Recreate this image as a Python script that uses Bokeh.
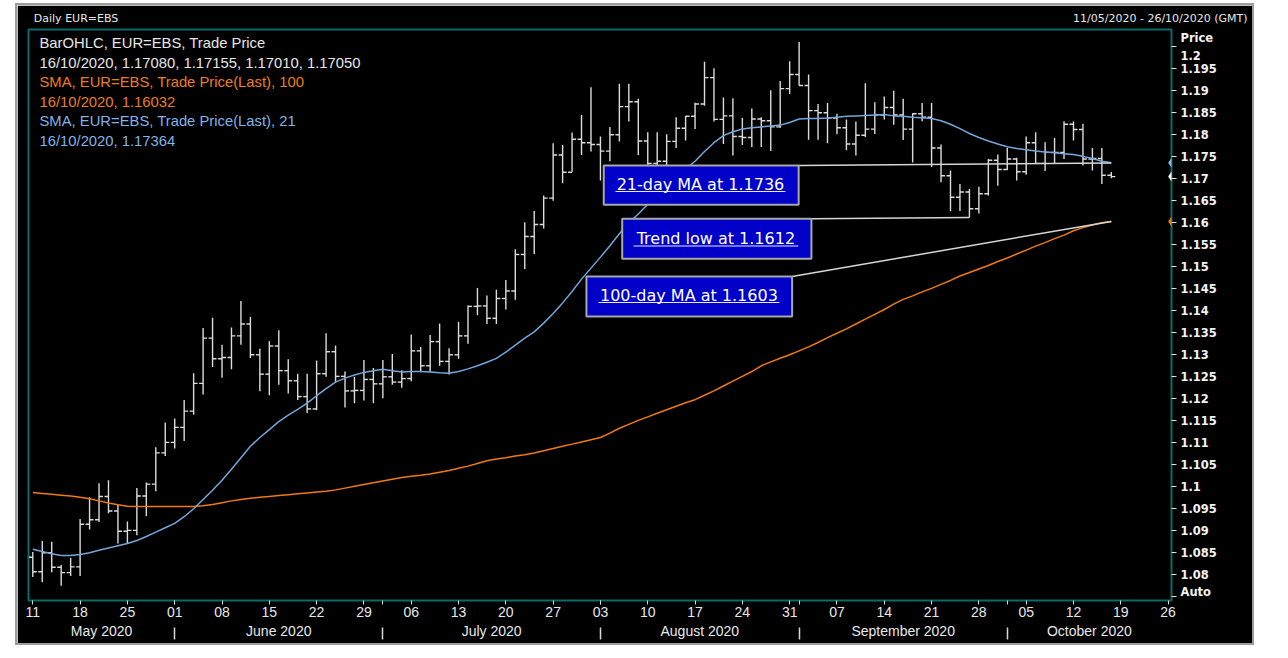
import numpy as np
import pandas as pd
from bokeh.plotting import figure
from bokeh.models import ColumnDataSource, Range1d, LinearAxis, FixedTicker, Label
from bokeh.core.properties import value
from bokeh.embed import file_html
from bokeh.resources import INLINE

# ---------------- data ----------------
dates = pd.bdate_range("2020-05-11", "2020-10-16")

opens = [
    1.0840, 1.0807, 1.0850, 1.0817, 1.0805,
    1.0818, 1.0915, 1.0925, 1.0978, 1.0945,
    1.0899, 1.0901, 1.0979, 1.1006, 1.1077,
    1.1101, 1.1135, 1.1172, 1.1235, 1.1338,
    1.1291, 1.1294, 1.1343, 1.1370, 1.1300,
    1.1256, 1.1320, 1.1264, 1.1241, 1.1205,
    1.1177, 1.1257, 1.1307, 1.1251, 1.1218,
    1.1219, 1.1244, 1.1234, 1.1250, 1.1238,
    1.1246, 1.1309, 1.1275, 1.1330, 1.1285,
    1.1300, 1.1343, 1.1410, 1.1411, 1.1383,
    1.1428, 1.1445, 1.1528, 1.1569, 1.1596,
    1.1656, 1.1754, 1.1715, 1.1790, 1.1782,
    1.1778, 1.1763, 1.1800, 1.1864, 1.1875,
    1.1786, 1.1735, 1.1740, 1.1785, 1.1815,
    1.1842, 1.1870, 1.1930, 1.1835, 1.1843,
    1.1796, 1.1794, 1.1836, 1.1832, 1.1818,
    1.1905, 1.1937, 1.1912, 1.1855, 1.1850,
    1.1838, 1.1816, 1.1779, 1.1799, 1.1813,
    1.1845, 1.1862, 1.1845, 1.1813, 1.1848,
    1.1840, 1.1770, 1.1707, 1.1658, 1.1670,
    1.1632, 1.1666, 1.1742, 1.1721, 1.1745,
    1.1716, 1.1782, 1.1735, 1.1760, 1.1760,
    1.1824, 1.1812, 1.1745, 1.1746, 1.17080,
]
highs = [
    1.0852, 1.0877, 1.0875, 1.0822, 1.0838,
    1.0927, 1.0976, 1.1008, 1.1015, 1.0960,
    1.0921, 1.0997, 1.1010, 1.1090, 1.1146,
    1.1155, 1.1197, 1.1258, 1.1361, 1.1384,
    1.1323, 1.1362, 1.1422, 1.1386, 1.1314,
    1.1331, 1.1356, 1.1290, 1.1257, 1.1257,
    1.1287, 1.1349, 1.1321, 1.1262, 1.1250,
    1.1288, 1.1270, 1.1288, 1.1302, 1.1265,
    1.1346, 1.1318, 1.1345, 1.1371, 1.1315,
    1.1375, 1.1412, 1.1452, 1.1435, 1.1448,
    1.1470, 1.1540, 1.1601, 1.1627, 1.1662,
    1.1781, 1.1777, 1.1805, 1.1845, 1.1908,
    1.1796, 1.1818, 1.1916, 1.1916, 1.1882,
    1.1806, 1.1806, 1.1801, 1.1840, 1.1843,
    1.1873, 1.1966, 1.1951, 1.1885, 1.1883,
    1.1838, 1.1860, 1.1840, 1.1901, 1.1922,
    1.1967, 1.2011, 1.1937, 1.1870, 1.1872,
    1.1848, 1.1835, 1.1830, 1.1917, 1.1874,
    1.1887, 1.1900, 1.1882, 1.1849, 1.1872,
    1.1872, 1.1778, 1.1719, 1.1688, 1.1677,
    1.1682, 1.1745, 1.1755, 1.1770, 1.1748,
    1.1796, 1.1806, 1.1783, 1.1793, 1.1831,
    1.1830, 1.1825, 1.1770, 1.1770, 1.17155,
]
lows = [
    1.0795, 1.0783, 1.0806, 1.0775, 1.0797,
    1.0797, 1.0903, 1.0920, 1.0940, 1.0871,
    1.0870, 1.0890, 1.0933, 1.0990, 1.1070,
    1.1087, 1.1104, 1.1164, 1.1210, 1.1272,
    1.1248, 1.1267, 1.1323, 1.1293, 1.1217,
    1.1208, 1.1232, 1.1212, 1.1197, 1.1168,
    1.1174, 1.1250, 1.1238, 1.1180, 1.1190,
    1.1196, 1.1190, 1.1201, 1.1232, 1.1225,
    1.1240, 1.1263, 1.1261, 1.1275, 1.1255,
    1.1291, 1.1325, 1.1390, 1.1370, 1.1370,
    1.1403, 1.1425, 1.1495, 1.1529, 1.1587,
    1.1650, 1.1690, 1.1716, 1.1754, 1.1762,
    1.1696, 1.1740, 1.1785, 1.1830, 1.1754,
    1.1723, 1.1711, 1.1711, 1.1770, 1.1787,
    1.1813, 1.1866, 1.1830, 1.1779, 1.1753,
    1.1777, 1.1772, 1.1772, 1.1763, 1.1816,
    1.1893, 1.1912, 1.1789, 1.1789, 1.1781,
    1.1801, 1.1765, 1.1753, 1.1795, 1.1802,
    1.1835, 1.1823, 1.1788, 1.1737, 1.1831,
    1.1727, 1.1692, 1.1626, 1.1627, 1.1612,
    1.1621, 1.1662, 1.1684, 1.1720, 1.1696,
    1.1709, 1.1735, 1.1718, 1.1736, 1.1745,
    1.1787, 1.1730, 1.1719, 1.1688, 1.17010,
]
closes = [
    1.0807, 1.0850, 1.0817, 1.0805, 1.0818,
    1.0915, 1.0925, 1.0978, 1.0945, 1.0899,
    1.0901, 1.0979, 1.1006, 1.1077, 1.1101,
    1.1135, 1.1172, 1.1235, 1.1338, 1.1291,
    1.1294, 1.1343, 1.1370, 1.1300, 1.1256,
    1.1320, 1.1264, 1.1241, 1.1205, 1.1177,
    1.1257, 1.1307, 1.1251, 1.1218, 1.1219,
    1.1244, 1.1234, 1.1250, 1.1238, 1.1246,
    1.1309, 1.1275, 1.1330, 1.1285, 1.1300,
    1.1343, 1.1410, 1.1411, 1.1383, 1.1428,
    1.1445, 1.1528, 1.1569, 1.1596, 1.1656,
    1.1754, 1.1715, 1.1790, 1.1782, 1.1778,
    1.1763, 1.1800, 1.1864, 1.1875, 1.1786,
    1.1735, 1.1740, 1.1785, 1.1815, 1.1842,
    1.1870, 1.1930, 1.1835, 1.1843, 1.1796,
    1.1794, 1.1836, 1.1832, 1.1818, 1.1905,
    1.1937, 1.1912, 1.1855, 1.1850, 1.1838,
    1.1816, 1.1779, 1.1799, 1.1813, 1.1845,
    1.1862, 1.1845, 1.1813, 1.1848, 1.1840,
    1.1770, 1.1707, 1.1658, 1.1670, 1.1632,
    1.1666, 1.1742, 1.1721, 1.1745, 1.1716,
    1.1782, 1.1735, 1.1760, 1.1760, 1.1824,
    1.1812, 1.1745, 1.1746, 1.1708, 1.17050,
]
sma21 = [
    1.0858, 1.0853, 1.0848, 1.0844, 1.0844, 1.0846, 1.0850, 1.0856, 1.0861, 1.0866,
    1.0871, 1.0878, 1.0887, 1.0897, 1.0907, 1.0917, 1.0932, 1.0950, 1.0971, 1.0992,
    1.1015, 1.1040, 1.1066, 1.1092, 1.1112, 1.1130, 1.1148, 1.1163, 1.1176, 1.1190,
    1.1207, 1.1223, 1.1238, 1.1247, 1.1254, 1.1260, 1.1264, 1.1267, 1.1264, 1.1261,
    1.1262, 1.1262, 1.1261, 1.1259, 1.1258, 1.1262, 1.1268, 1.1275, 1.1283, 1.1292,
    1.1306, 1.1322, 1.1338, 1.1352, 1.1372, 1.1394, 1.1418, 1.1444, 1.1472, 1.1497,
    1.1522, 1.1548, 1.1575, 1.1600, 1.1620, 1.1642, 1.1663, 1.1684, 1.1703, 1.1722,
    1.1740, 1.1762, 1.1782, 1.1798, 1.1807, 1.1813, 1.1816, 1.1818, 1.1820, 1.1822,
    1.1828, 1.1836, 1.1837, 1.1837, 1.1838, 1.1840, 1.1842, 1.1843, 1.1844, 1.1845,
    1.1846, 1.1843, 1.1842, 1.1840, 1.1839, 1.1837, 1.1832, 1.1824, 1.1814, 1.1803,
    1.1794, 1.1786, 1.1779, 1.1773, 1.1769, 1.1766, 1.1763, 1.1761, 1.1759, 1.1757,
    1.1755, 1.1751, 1.1746, 1.1740, 1.17364,
]
sma100 = [
    1.0987, 1.0985, 1.0983, 1.0981, 1.0979, 1.0976, 1.0973, 1.0968, 1.0963, 1.0959,
    1.0956, 1.0955, 1.0955, 1.0955, 1.0955, 1.0955, 1.0955, 1.0955, 1.0957, 1.0960,
    1.0964, 1.0968, 1.0971, 1.0974, 1.0976, 1.0978, 1.0980, 1.0982, 1.0984, 1.0986,
    1.0988, 1.0990, 1.0993, 1.0997, 1.1001, 1.1005, 1.1009, 1.1013, 1.1017, 1.1021,
    1.1024, 1.1026, 1.1029, 1.1033, 1.1037, 1.1042, 1.1047, 1.1053, 1.1059, 1.1063,
    1.1066, 1.1070, 1.1073, 1.1077, 1.1082, 1.1087, 1.1092, 1.1097, 1.1102, 1.1107,
    1.1112, 1.1122, 1.1133, 1.1142, 1.1151, 1.1159, 1.1167, 1.1175, 1.1183, 1.1191,
    1.1198, 1.1208, 1.1218, 1.1229, 1.1240, 1.1251, 1.1262, 1.1275, 1.1284, 1.1292,
    1.1300, 1.1309, 1.1318, 1.1328, 1.1339, 1.1349, 1.1359, 1.1370, 1.1381, 1.1392,
    1.1403, 1.1415, 1.1426, 1.1434, 1.1443, 1.1451, 1.1460, 1.1469, 1.1479, 1.1487,
    1.1495, 1.1503, 1.1512, 1.1520, 1.1529, 1.1538, 1.1547, 1.1555, 1.1564, 1.1572,
    1.1582, 1.1589, 1.1595, 1.1600, 1.16032,
]

# tick labels
day_tick_labels = ["11", "18", "25", "01", "08", "15", "22", "29", "06", "13", "20", "27",
                   "03", "10", "17", "24", "31", "07", "14", "21", "28", "05", "12", "19", "26"]
month_labels = ["May 2020", "June 2020", "July 2020", "August 2020", "September 2020", "October 2020"]
month_start_days = ["2020-06-01", "2020-07-01", "2020-08-03", "2020-09-01", "2020-10-01"]
y_tick_values = [1.075, 1.08, 1.085, 1.09, 1.095, 1.1, 1.105, 1.11, 1.115, 1.12, 1.125, 1.13,
                 1.135, 1.14, 1.145, 1.15, 1.155, 1.16, 1.165, 1.17, 1.175, 1.18, 1.185, 1.19,
                 1.195, 1.2]
y_tick_labels = ["Auto", "1.08", "1.085", "1.09", "1.095", "1.1", "1.105", "1.11", "1.115", "1.12",
                 "1.125", "1.13", "1.135", "1.14", "1.145", "1.15", "1.155", "1.16", "1.165",
                 "1.17", "1.175", "1.18", "1.185", "1.19", "1.195", "1.2"]
price_axis_title = "Price"
header_left = "Daily EUR=EBS"
header_right = "11/05/2020 - 26/10/2020 (GMT)"

# callouts
callout_texts = ["21-day MA at 1.1736", "Trend low at 1.1612", "100-day MA at 1.1603"]
callout_targets_day = ["2020-10-16", "2020-09-25", "2020-10-16"]
callout_targets_val = [1.1736, 1.1612, 1.16032]

legend_lines = [
    ("BarOHLC, EUR=EBS, Trade Price", "#e6e6e6"),
    ("16/10/2020, 1.17080, 1.17155, 1.17010, 1.17050", "#e6e6e6"),
    ("SMA, EUR=EBS, Trade Price(Last),  100", "#ee7d1f"),
    ("16/10/2020, 1.16032", "#ee7d1f"),
    ("SMA, EUR=EBS, Trade Price(Last),  21", "#82b3e6"),
    ("16/10/2020, 1.17364", "#82b3e6"),
]

# ---------------- layout / styling ----------------
n = len(dates)
idx = np.arange(n)
day_of = {d.strftime("%Y-%m-%d"): i for i, d in enumerate(pd.bdate_range("2020-05-11", "2020-10-30"))}

X0, X1 = -0.4545, 120.36
Y0, Y1 = 1.074159, 1.203932
FB = 600  # frame bottom on page (for screen-unit labels)


def price_at(py):
    """price for a page pixel row (layout helper for label placement)"""
    return 1.08 + (574.3 - py) / 4400.0


p = figure(width=1235, height=638, x_range=Range1d(X0, X1), y_range=Range1d(Y0, Y1),
           output_backend="svg", toolbar_location=None, title=None,
           y_axis_location="right",
           min_border_left=11, min_border_right=81, min_border_top=24, min_border_bottom=43,
           background_fill_color="black", border_fill_color="black")
p.margin = (5, 0, 0, 17)
p.styles = {"outline": "2px solid #9c9c9c"}
p.grid.visible = False
p.outline_line_color = "#0d6a6a"
p.outline_line_width = 2

# grab the default axes before adding extra ones
xa = p.below[0]
ya = p.right[0]

# right price axis: tick marks as minor ticks, labels as (invisible) major ticks
label_pos = list(y_tick_values)
label_pos[0] = price_at(592.0)          # "Auto" sits in its box
label_pos[-1] = price_at(55.0)          # "1.2" is pushed down below "Price"
label_pos.append(price_at(37.0))        # "Price" caption
label_txt = y_tick_labels + [price_axis_title]
ya.ticker = FixedTicker(ticks=label_pos, minor_ticks=y_tick_values)
ya.major_label_overrides = {v: s for v, s in zip(label_pos, label_txt)}
ya.axis_line_color = None
ya.major_tick_in = 0
ya.major_tick_out = 5
ya.major_tick_line_color = None
ya.minor_tick_in = 0
ya.minor_tick_out = 5
ya.minor_tick_line_color = "#e0e0e0"
ya.major_label_standoff = 4
ya.major_label_text_font = "DejaVu Sans"
ya.major_label_text_font_style = "bold"
ya.major_label_text_font_size = "11.5px"
ya.major_label_text_color = "#f2f2f2"

# day axis
month_start_idx = [day_of[d] for d in month_start_days]
monday_idx = [5 * k for k in range(len(day_tick_labels))]
xa.ticker = FixedTicker(ticks=monday_idx, minor_ticks=month_start_idx)
xa.major_label_overrides = {m: s for m, s in zip(monday_idx, day_tick_labels)}
xa.axis_line_color = None
xa.major_tick_in = 0
xa.major_tick_out = 4
xa.minor_tick_in = 0
xa.minor_tick_out = 4
xa.major_tick_line_color = "#d8d8d8"
xa.minor_tick_line_color = "#d8d8d8"
xa.major_label_standoff = 2
xa.major_label_text_font = "Liberation Sans"
xa.major_label_text_font_size = "14px"
xa.major_label_text_color = "#e8e8e8"

# month axis with separators (minor ticks reaching down through the label row)
bounds = [X0] + month_start_idx + [X1]
month_centers = [(bounds[k] + bounds[k + 1]) / 2 for k in range(len(month_labels))]
ma = LinearAxis(ticker=FixedTicker(ticks=month_centers, minor_ticks=month_start_idx))
ma.major_label_overrides = {c: s for c, s in zip(month_centers, month_labels)}
ma.axis_line_color = None
ma.major_tick_line_color = None
ma.major_tick_in = 0
ma.major_tick_out = 0
ma.minor_tick_in = -8
ma.minor_tick_out = 20
ma.minor_tick_line_color = "#d8d8d8"
ma.minor_tick_line_width = 1.5
ma.major_label_standoff = -17
ma.major_label_text_font = "Liberation Sans"
ma.major_label_text_font_size = "14px"
ma.major_label_text_color = "#e8e8e8"
p.add_layout(ma, "below")

# header row (above the frame) as an un-ticked axis
hdr_pos = [4.57, 119.18]
ha = LinearAxis(ticker=FixedTicker(ticks=hdr_pos))
ha.major_label_overrides = {hdr_pos[0]: header_left, hdr_pos[1]: header_right}
ha.axis_line_color = None
ha.major_tick_line_color = None
ha.major_tick_in = 0
ha.major_tick_out = 0
ha.minor_tick_line_color = None
ha.major_label_standoff = 5
ha.major_label_text_font = "DejaVu Sans"
ha.major_label_text_font_size = "11px"
ha.major_label_text_color = "#e6e6e6"
p.add_layout(ha, "above")

# OHLC bars
src = ColumnDataSource(dict(x=idx, o=opens, h=highs, l=lows, c=closes,
                            xl=idx - 0.42, xr=idx + 0.42))
bar_col = "#dcdcdc"
p.segment("x", "l", "x", "h", source=src, line_color=bar_col, line_width=1.4)
p.segment("xl", "o", "x", "o", source=src, line_color=bar_col, line_width=1.4)
p.segment("x", "c", "xr", "c", source=src, line_color=bar_col, line_width=1.4)

# moving averages
p.line(idx, sma100, line_color="#f07a12", line_width=1.5)
p.line(idx, sma21, line_color="#74a6da", line_width=1.5)

# last-value markers on the price axis edge
p.scatter([X1, X1, X1], [sma21[-1], closes[-1], sma100[-1]], marker="diamond", size=10,
          fill_color=["#8ab8ea", "#ffffff", "#f07a12"], line_color=None)

# callout boxes (data units) : left, right, bottom, top
box_l = [60.35, 62.3, 58.52]
box_r = [80.95, 82.3, 80.26]
box_b = [price_at(204.3), price_at(258.3), price_at(316.0)]
box_t = [price_at(165.0), price_at(218.3), price_at(276.0)]
text_x = [70.57, 72.2, 69.35]
text_y = [price_at(183.5), price_at(237.8), price_at(294.5)]
ul_x0 = [61.58, 63.49, 59.79]
ul_x1 = [79.55, 80.92, 78.91]
ul_y = [price_at(191.0), price_at(245.5), price_at(302.0)]

tx = [day_of[d] for d in callout_targets_day]
p.segment(x0=box_r, y0=box_t, x1=tx, y1=callout_targets_val, line_color="#d6d6d6", line_width=1.5)
p.quad(left=box_l, right=box_r, bottom=box_b, top=box_t, fill_color="#0000c8",
       line_color="#a8a8a8", line_width=2)
p.text(x=text_x, y=text_y, text=callout_texts, text_font=value("DejaVu Sans"),
       text_font_size="16px", text_color="#ffffff", text_align="center",
       text_baseline="middle")
p.segment(x0=ul_x0, y0=ul_y, x1=ul_x1, y1=ul_y, line_color="#e8e8ff", line_width=1)

# legend text (top left, inside the frame)
for k, (txt, col) in enumerate(legend_lines):
    p.add_layout(Label(x=11, y=FB - (42.8 + 19.5 * k), x_units="screen", y_units="screen",
                       text=txt, text_color=col, text_font="Liberation Sans",
                       text_font_size="14.8px", text_baseline="middle"))

open("out.html", "w").write(file_html(p, INLINE))
